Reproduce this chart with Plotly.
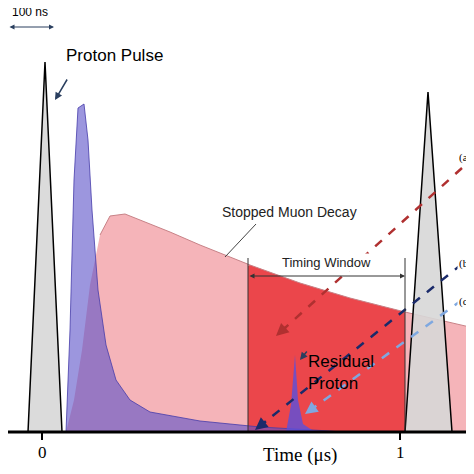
import plotly.graph_objects as go

def X(p): return (p-42)/358
def Y(p): return (432-p)/432

# shapes (pixel coords)
pulse1_px = [(28,432),(45,62),(62,432)]
pulse2_px = [(405,432),(428,92),(452,432)]
muon_px = [(66,432),(74,400),(82,350),(90,285),(100,235),(110,216),(125,214),(145,222),(170,232),(200,245),(250,265),(300,283),(350,298),(405,312),(474,328)]
blue_px = [(66,432),(70,330),(74,180),(78,108),(84,104),(88,140),(92,210),(98,290),(106,345),(116,380),(130,400),(150,412),(200,421),(260,427),(330,431),(340,432)]
resid_px = [(286,432),(291,405),(295,355),(298,400),(303,424),(312,430),(325,432)]
win_lo, win_hi = 248, 405

fig = go.Figure()
def poly(pts, color, line='rgba(0,0,0,0)', w=0):
    fig.add_trace(go.Scatter(x=[X(a) for a,b in pts], y=[Y(b) for a,b in pts], fill='toself',
        fillcolor=color, mode='lines', line=dict(color=line, width=w), hoverinfo='skip'))

poly(muon_px+[(474,432)], 'rgba(245,180,185,1)')
red = [(win_lo,432)]+[(win_lo,266)]+[p for p in muon_px if win_lo<p[0]<win_hi]+[(win_hi,312),(win_hi,432)]
poly(red, 'rgba(235,70,75,1)')
fig.add_trace(go.Scatter(x=[X(a) for a,b in muon_px[4:]], y=[Y(b) for a,b in muon_px[4:]], mode='lines', line=dict(color='rgba(200,130,135,1)', width=1)))
poly(blue_px, 'rgba(90,80,200,0.6)', 'rgba(70,60,170,0.8)', 1)
poly(resid_px, 'rgba(90,80,220,0.8)')
poly(pulse1_px, 'rgba(215,215,215,0.9)', 'black', 1.5)
poly(pulse2_px, 'rgba(215,215,215,0.9)', 'black', 1.5)

# timing window bracket
for xp in (win_lo, win_hi):
    fig.add_shape(type='line', x0=X(xp), x1=X(xp), y0=Y(258), y1=Y(432), line=dict(color='#333', width=1))
fig.add_annotation(x=X(win_hi), y=Y(276), ax=X(win_lo), ay=Y(276), xref='x', yref='y', axref='x', ayref='y', text='', arrowhead=2, arrowsize=1, arrowwidth=1, arrowcolor='#333', startarrowhead=2, arrowside='end+start')
fig.add_annotation(x=X(326), y=Y(262), text='Timing Window', showarrow=False, font=dict(family='Liberation Sans', size=13, color='#222'), bgcolor='white')

# dashed arrows
arrows = [((462,168),(276,336),'#b03030'),((462,264),(255,430),'#1a2a6a'),((462,300),(305,414),'#7fa8e0')]
for (sx,sy),(ex,ey),c in arrows:
    fig.add_trace(go.Scatter(x=[X(sx),X(ex)], y=[Y(sy),Y(ey)], mode='lines', line=dict(color=c, width=2.5, dash='dash')))
    fig.add_annotation(x=X(ex), y=Y(ey), ax=X(ex+(sx-ex)*0.06), ay=Y(ey+(sy-ey)*0.06), xref='x', yref='y', axref='x', ayref='y', text='', arrowhead=2, arrowwidth=2.5, arrowcolor=c)
for lab, yp in (('(a)',157),('(b)',263),('(c)',301)):
    fig.add_annotation(x=X(474), y=Y(yp), text=lab, showarrow=False, xanchor='right', font=dict(family='Liberation Serif', size=11, color='black'), bgcolor='white')

# labels
fig.add_annotation(x=X(64), y=Y(55), text='Proton Pulse', showarrow=False, xanchor='left', font=dict(family='Liberation Sans', size=17, color='black'))
fig.add_annotation(x=X(55), y=Y(100), ax=X(68), ay=Y(78), xref='x', yref='y', axref='x', ayref='y', text='', arrowhead=2, arrowwidth=1.5)
fig.add_annotation(x=X(220), y=Y(212), text='Stopped Muon Decay', showarrow=False, xanchor='left', font=dict(family='Liberation Sans', size=14, color='#222'))
fig.add_shape(type='line', x0=X(256), y0=Y(224), x1=X(225), y1=Y(257), line=dict(color='#444', width=1))
fig.add_annotation(x=X(306), y=Y(372), text='Residual<br>Proton', showarrow=False, xanchor='left', align='left', font=dict(family='Liberation Sans', size=17, color='black'))
fig.add_annotation(x=X(300), y=Y(360), ax=X(308), ay=Y(350), xref='x', yref='y', axref='x', ayref='y', text='', arrowhead=2, arrowwidth=1.5)
fig.add_annotation(x=X(30), y=Y(12), text='100 ns', showarrow=False, font=dict(family='Liberation Sans', size=12, color='black'))
fig.add_annotation(x=X(54), y=Y(27), ax=X(8), ay=Y(27), xref='x', yref='y', axref='x', ayref='y', text='', arrowhead=2, arrowwidth=1, arrowside='end+start')

# axis
fig.add_shape(type='line', x0=X(0), x1=X(474), y0=0, y1=0, line=dict(color='black', width=3))
for xv, lab in ((0,'0'),(1,'1')):
    fig.add_shape(type='line', x0=xv, x1=xv, y0=0, y1=Y(440), line=dict(color='black', width=2))
    fig.add_annotation(x=xv, y=Y(452), text=lab, showarrow=False, font=dict(family='Liberation Serif', size=17, color='black'))
fig.add_annotation(x=X(300), y=Y(455), text='Time (μs)', showarrow=False, font=dict(family='Liberation Serif', size=19, color='black'))

fig.update_layout(width=474, height=474, margin=dict(l=0,r=0,t=0,b=0), showlegend=False,
    plot_bgcolor='white', paper_bgcolor='white',
    xaxis=dict(range=[X(8),X(482)], visible=False, fixedrange=True),
    yaxis=dict(range=[Y(482),Y(8)], visible=False, fixedrange=True))
fig.write_html('out.html')
